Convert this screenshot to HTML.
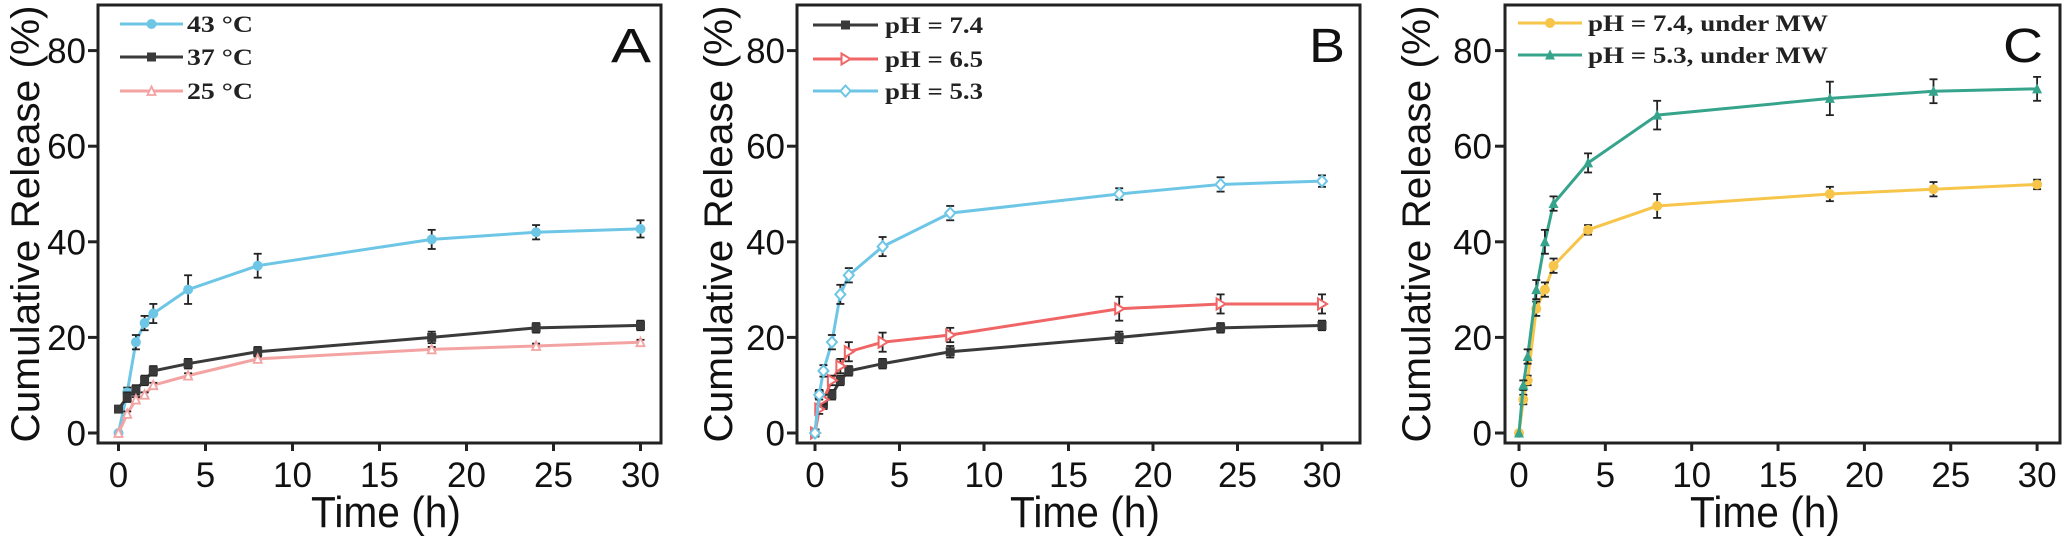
<!DOCTYPE html>
<html><head><meta charset="utf-8"><style>
html,body{margin:0;padding:0;background:#fff;}
svg{display:block}
.t{font-family:"Liberation Sans",Arial,sans-serif;fill:#111}
.lg{font-family:"Liberation Serif","Times New Roman",serif;font-weight:bold;fill:#222;font-size:23px}
</style></head><body>
<svg id="s" width="2066" height="540" viewBox="0 0 2066 540" xmlns="http://www.w3.org/2000/svg">
<g fill="none" stroke="#222" stroke-width="3">
<rect x="98" y="5" width="563" height="438"/>
<rect x="797" y="5" width="563" height="438"/>
<rect x="1505" y="5" width="555" height="438"/>
</g>
<g id="ticks" stroke="#222" stroke-width="3"></g>
<g id="data"></g>
<g class="t" font-size="35" text-anchor="end">
<text x="86" y="445.5">0</text><text x="86" y="349.9">20</text><text x="86" y="254.3">40</text><text x="86" y="158.7">60</text><text x="86" y="63.1">80</text>
<text x="785" y="445.5">0</text><text x="785" y="349.9">20</text><text x="785" y="254.3">40</text><text x="785" y="158.7">60</text><text x="785" y="63.1">80</text>
<text x="1492" y="445.5">0</text><text x="1492" y="349.9">20</text><text x="1492" y="254.3">40</text><text x="1492" y="158.7">60</text><text x="1492" y="63.1">80</text>
</g>
<g class="t" font-size="35" text-anchor="middle">
<text x="118.5" y="487">0</text><text x="205.5" y="487">5</text><text x="292.5" y="487">10</text><text x="379.5" y="487">15</text><text x="466.5" y="487">20</text><text x="553.5" y="487">25</text><text x="640.5" y="487">30</text>
<text x="815" y="487">0</text><text x="899.5" y="487">5</text><text x="984" y="487">10</text><text x="1068.5" y="487">15</text><text x="1153" y="487">20</text><text x="1237.5" y="487">25</text><text x="1322" y="487">30</text>
<text x="1519" y="487">0</text><text x="1605.4" y="487">5</text><text x="1691.7" y="487">10</text><text x="1778.1" y="487">15</text><text x="1864.4" y="487">20</text><text x="1950.8" y="487">25</text><text x="2037.1" y="487">30</text>
</g>
<g class="t" font-size="44" text-anchor="middle">
<text x="386" y="527" textLength="150" lengthAdjust="spacingAndGlyphs">Time (h)</text>
<text x="1085" y="527" textLength="150" lengthAdjust="spacingAndGlyphs">Time (h)</text>
<text x="1765" y="527" textLength="150" lengthAdjust="spacingAndGlyphs">Time (h)</text>
</g>
<g class="t" font-size="40" text-anchor="middle">
<text transform="translate(39,224) rotate(-90)" textLength="437" lengthAdjust="spacingAndGlyphs">Cumulative Release (%)</text>
<text transform="translate(732,224) rotate(-90)" textLength="437" lengthAdjust="spacingAndGlyphs">Cumulative Release (%)</text>
<text transform="translate(1430,224) rotate(-90)" textLength="437" lengthAdjust="spacingAndGlyphs">Cumulative Release (%)</text>
</g>
<g class="t" font-size="48">
<text x="611" y="62" textLength="40" lengthAdjust="spacingAndGlyphs">A</text>
<text x="1309" y="62" textLength="36" lengthAdjust="spacingAndGlyphs">B</text>
<text x="2003" y="62" textLength="40" lengthAdjust="spacingAndGlyphs">C</text>
</g>
<g id="leg"></g>
<g class="lg">
<text x="187" y="32" textLength="66" lengthAdjust="spacingAndGlyphs">43 °C</text><text x="187" y="65" textLength="66" lengthAdjust="spacingAndGlyphs">37 °C</text><text x="187" y="99" textLength="66" lengthAdjust="spacingAndGlyphs">25 °C</text>
<text x="885" y="33" textLength="98" lengthAdjust="spacingAndGlyphs">pH = 7.4</text><text x="885" y="67" textLength="98" lengthAdjust="spacingAndGlyphs">pH = 6.5</text><text x="885" y="99" textLength="98" lengthAdjust="spacingAndGlyphs">pH = 5.3</text>
<text x="1588" y="31" textLength="240" lengthAdjust="spacingAndGlyphs">pH = 7.4, under MW</text><text x="1588" y="63" textLength="240" lengthAdjust="spacingAndGlyphs">pH = 5.3, under MW</text>
</g>
</svg>
<script>
(function(){
var NS="http://www.w3.org/2000/svg";
function el(p,tag,a){var e=document.createElementNS(NS,tag);for(var k in a)e.setAttribute(k,a[k]);p.appendChild(e);return e;}
var ticks=document.getElementById('ticks'),data=document.getElementById('data'),leg=document.getElementById('leg');
var panels=[{x0:118.5,sx:17.4,L:98},{x0:815,sx:16.9,L:797},{x0:1519,sx:17.27,L:1505}];
var K=4.78;
function Y(v){return 433-K*v;}
panels.forEach(function(p){
 for(var k=0;k<=6;k++){var x=p.x0+5*k*p.sx;el(ticks,'line',{x1:x,x2:x,y1:443,y2:451});}
 for(var k=0;k<=4;k++){var y=Y(20*k);el(ticks,'line',{x1:p.L-10,x2:p.L,y1:y,y2:y});}
});
var T=[0,0.5,1,1.5,2,4,8,18,24,30],T2=[0,0.25,0.5,1,1.5,2,4,8,18,24,30];
var series=[
 [0,T,[0,8.5,19,23,25,30,35,40.5,42,42.7],'#6ec6e6',[0,1,1.5,1.5,2,3,2.5,2,1.5,1.8],'c'],
 [0,T,[5,7.5,9,11,13,14.5,17,20,22,22.5],'#3a3a3a',[0,1,1,1,1,1,1,1.2,1,1],'s'],
 [0,T,[0,4,7,8,10,12,15.5,17.5,18.2,19],'#f4a3a3',[0,0.5,0.5,0.5,0.5,0.5,0.5,0.5,0.5,0.5],'to'],
 [1,T2,[0,8,6,8,11,13,14.5,17,20,22,22.5],'#3a3a3a',[0,1,1,1,1,1,1,1.2,1.2,1,1],'s'],
 [1,T2,[0,5,7,11,14,17,19,20.5,26,27,27],'#f06565',[0,1,1,1,1.5,2,2,1.5,2.5,2,2],'r'],
 [1,T2,[0,8,13,19,29,33,39,46,50,52,52.7],'#6ec6e6',[0,1,1.2,1.5,2,1.5,2,1.5,1.2,1.5,1.2],'d'],
 [2,T2,[0,7,11,26,30,35,42.5,47.5,50,51,52],'#f6c54a',[0,1,1,1.5,1.5,1.5,1,2.5,1.5,1.5,1],'c'],
 [2,T2,[0,10,16,30,40,48,56.5,66.5,70,71.5,72],'#36a48c',[0,1,1.5,2,2.5,1.5,2,3,3.5,2.5,2.5],'t']
];
function marker(g,x,y,c,m){
 if(m==='s')el(g,'rect',{x:x-4.5,y:y-4.5,width:9,height:9,fill:c});
 else if(m==='t')el(g,'path',{d:'M'+(x-5)+','+(y+4.5)+'L'+x+','+(y-5.5)+'L'+(x+5)+','+(y+4.5)+'Z',fill:c});
 else if(m==='to')el(g,'path',{d:'M'+(x-4)+','+(y+4)+'L'+x+','+(y-4.5)+'L'+(x+4)+','+(y+4)+'Z',fill:'#fff',stroke:c,'stroke-width':1.8});
 else if(m==='r')el(g,'path',{d:'M'+(x-4)+','+(y-5.5)+'L'+(x+5)+','+y+'L'+(x-4)+','+(y+5.5)+'Z',fill:'#fff',stroke:c,'stroke-width':2});
 else if(m==='d')el(g,'path',{d:'M'+x+','+(y-5.5)+'L'+(x+5)+','+y+'L'+x+','+(y+5.5)+'L'+(x-5)+','+y+'Z',fill:'#fff',stroke:c,'stroke-width':2});
 else el(g,'circle',{cx:x,cy:y,r:5,fill:c});
}
series.forEach(function(s){
 var p=panels[s[0]],pts=[];
 for(var i=0;i<s[1].length;i++)pts.push([p.x0+s[1][i]*p.sx,Y(s[2][i])]);
 el(data,'polyline',{points:pts.map(function(a){return a.join(',');}).join(' '),fill:'none',stroke:s[3],'stroke-width':3});
 pts.forEach(function(a,i){
  var e=s[4][i]*K;
  if(e>0){el(data,'line',{x1:a[0],x2:a[0],y1:a[1]-e,y2:a[1]+e,stroke:'#222','stroke-width':1.8});
   el(data,'line',{x1:a[0]-4,x2:a[0]+4,y1:a[1]-e,y2:a[1]-e,stroke:'#222','stroke-width':1.8});
   el(data,'line',{x1:a[0]-4,x2:a[0]+4,y1:a[1]+e,y2:a[1]+e,stroke:'#222','stroke-width':1.8});}
  marker(data,a[0],a[1],s[3],s[5]);
 });
});
var L=[[120,183,24,'#6ec6e6','c'],[120,183,57,'#3a3a3a','s'],[120,183,91,'#f4a3a3','to'],
[813,878,25,'#3a3a3a','s'],[813,878,59,'#f06565','r'],[813,878,91,'#6ec6e6','d'],
[1518,1582,23,'#f6c54a','c'],[1518,1582,55,'#36a48c','t']];
L.forEach(function(l){el(leg,'line',{x1:l[0],x2:l[1],y1:l[2],y2:l[2],stroke:l[3],'stroke-width':3});marker(leg,(l[0]+l[1])/2,l[2],l[3],l[4]);});
})();
</script>
</body></html>
